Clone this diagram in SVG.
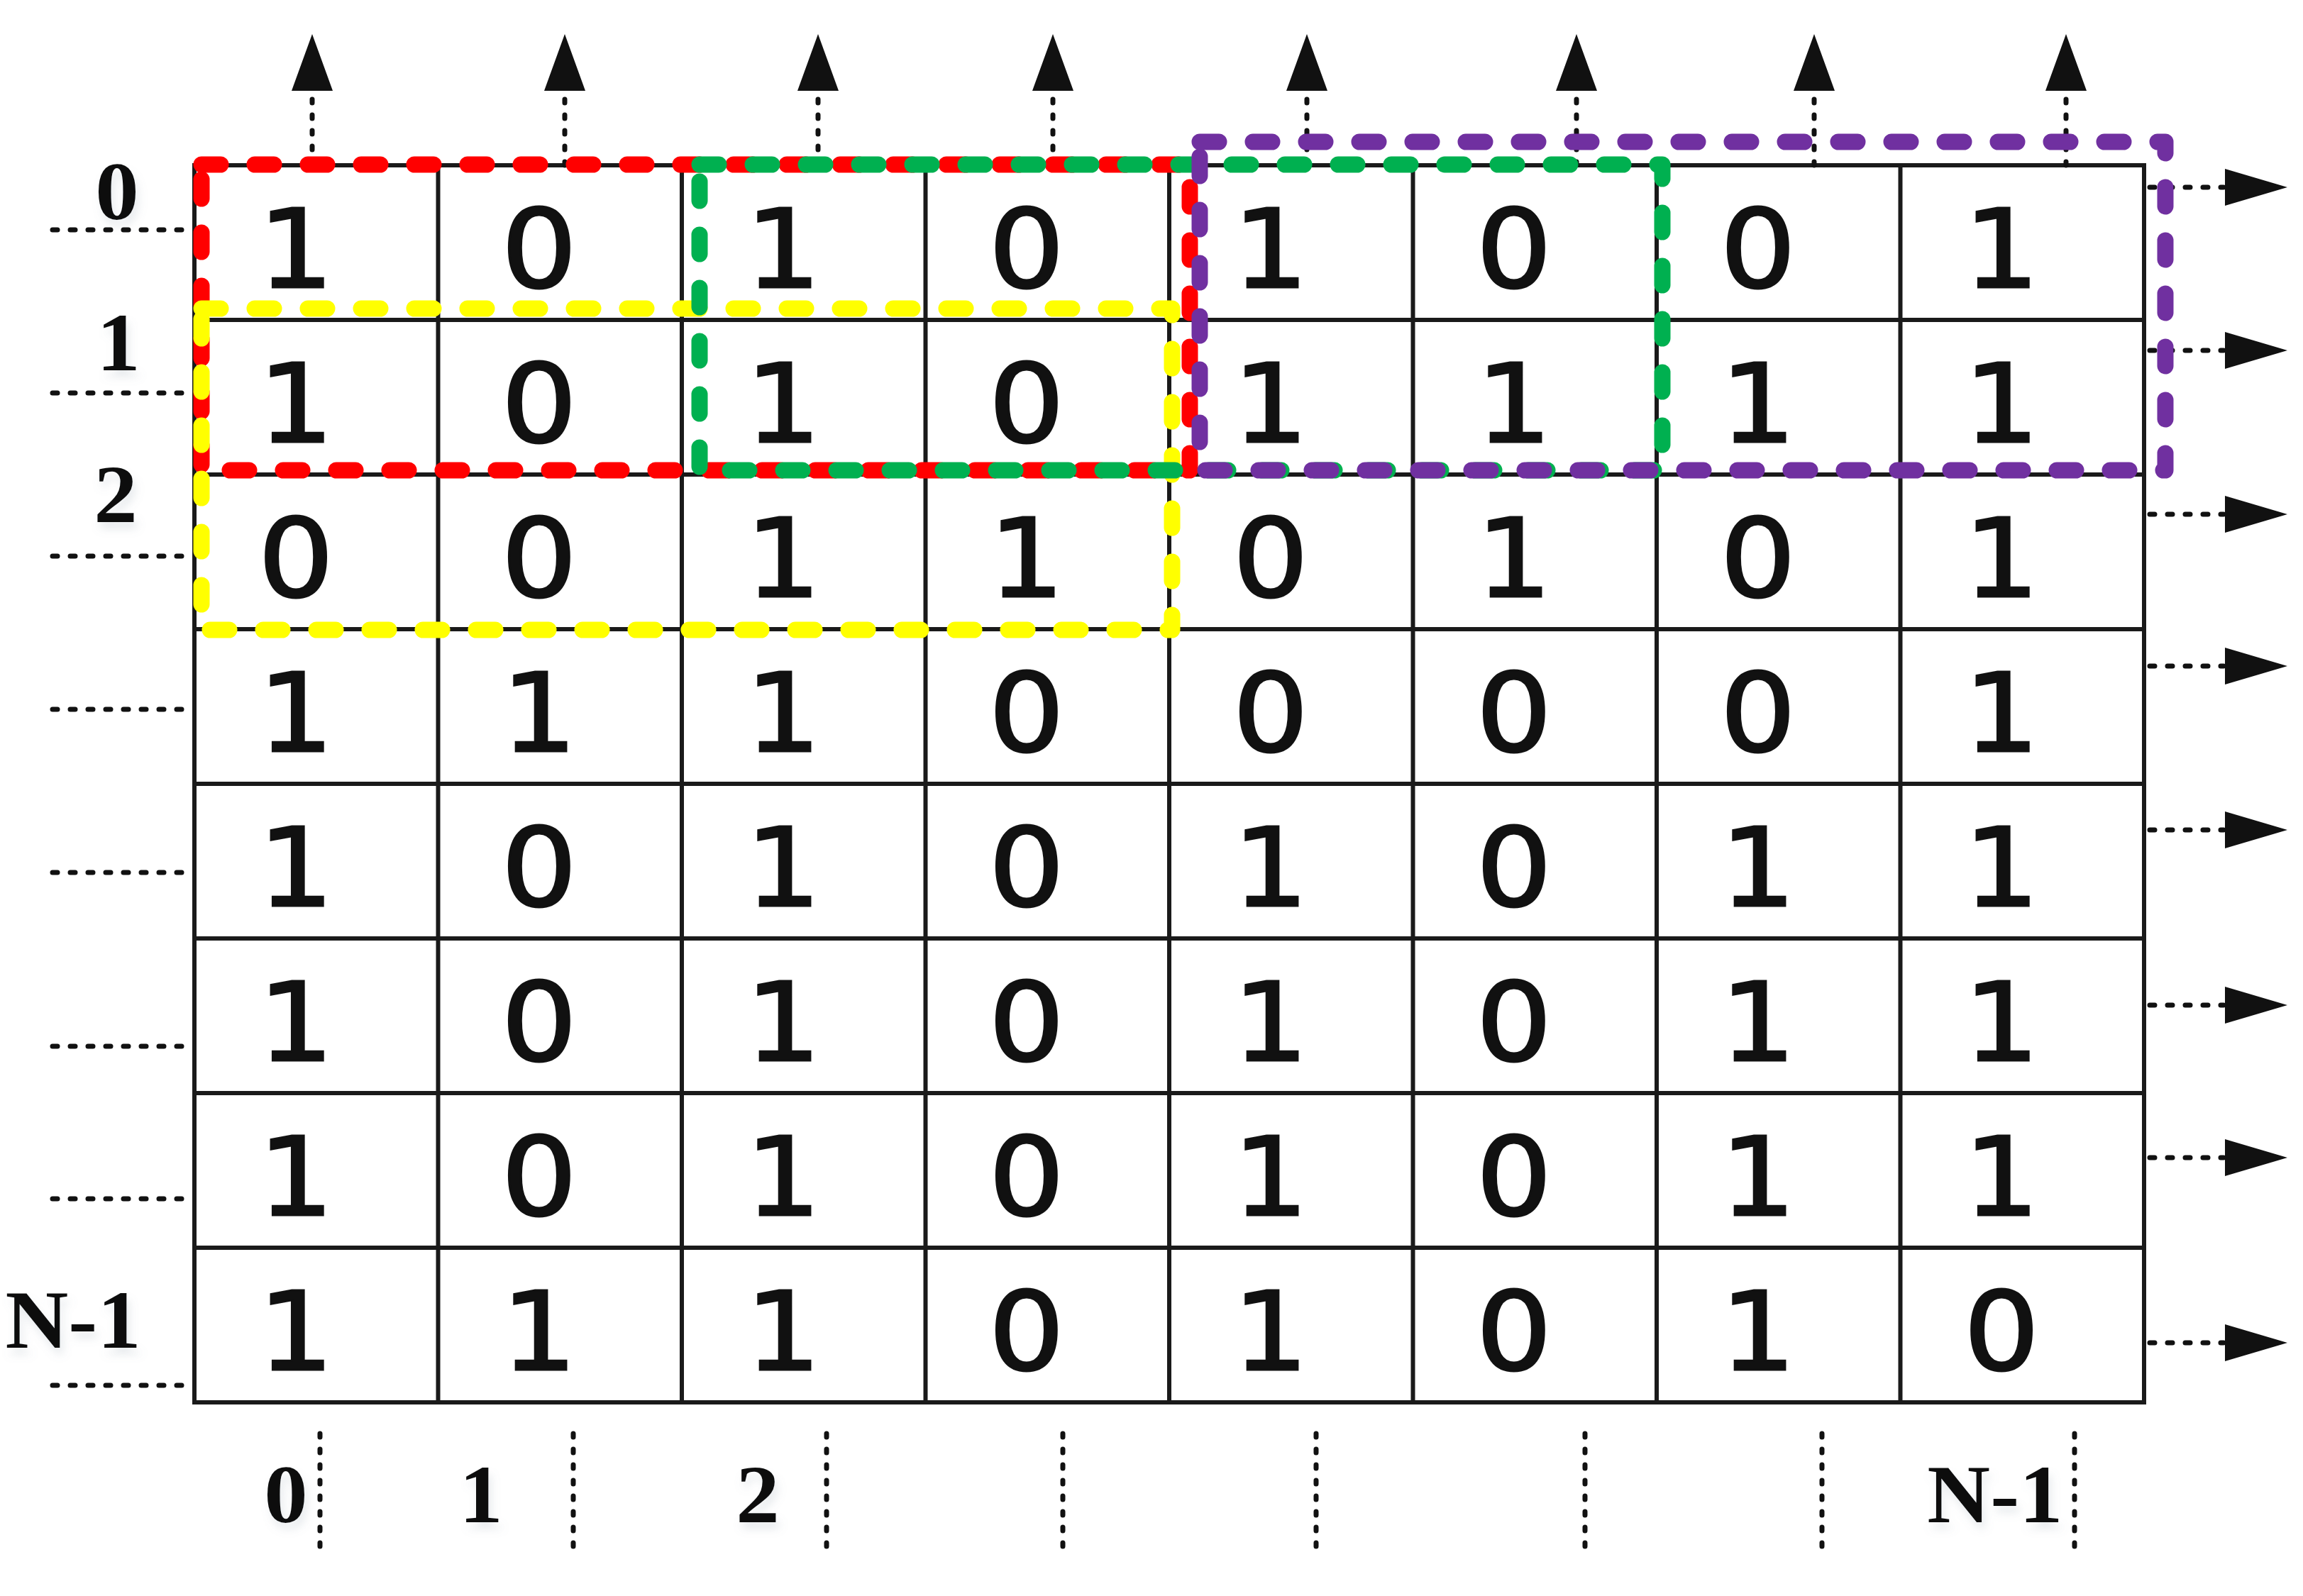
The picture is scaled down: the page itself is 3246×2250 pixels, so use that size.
<svg xmlns="http://www.w3.org/2000/svg" width="3246" height="2250" viewBox="0 0 3246 2250">
<defs>
<filter id="soft" x="-20%" y="-20%" width="140%" height="160%">
<feDropShadow dx="4" dy="10" stdDeviation="6" flood-color="#8090a0" flood-opacity="0.18"/>
</filter>
</defs>
<style>
.grid{fill:none;stroke:#1a1a1a;stroke-width:6}
.dig{font-family:"DejaVu Sans",Verdana,sans-serif;font-size:154px;fill:#111;stroke:#111;stroke-width:3;text-anchor:middle}
.lbl{font-family:"Liberation Serif","Times New Roman",serif;font-weight:bold;font-size:116px;fill:#111;text-anchor:middle}
.dot{stroke:#111;stroke-width:7;stroke-linecap:round;fill:none}
.dh{stroke-dasharray:7 18}
.dv{stroke-dasharray:5 17}
.head{fill:#111}
.box{fill:none;stroke-width:23;stroke-linecap:round;stroke-linejoin:round;stroke-dasharray:27 48}
</style>
<rect width="3246" height="2250" fill="#fff"/>
<g id="grid">
<rect class="grid" x="274" y="233" width="2748" height="1744"/>
<path class="grid" d="M617.5 233V1977M961 233V1977M1304.5 233V1977M1648 233V1977M1991.5 233V1977M2335 233V1977M2678.5 233V1977M274 451H3022M274 669H3022M274 887H3022M274 1105H3022M274 1323H3022M274 1541H3022M274 1759H3022"/>
</g>
<g id="cells" transform="scale(1.09 1)">
<g id="row0"><text class="dig" x="382.6" y="405">1</text><text class="dig" x="697.2" y="405">0</text><text class="dig" x="1012.8" y="405">1</text><text class="dig" x="1327.5" y="405">0</text><text class="dig" x="1643.1" y="405">1</text><text class="dig" x="1957.8" y="405">0</text><text class="dig" x="2273.4" y="405">0</text><text class="dig" x="2588.1" y="405">1</text></g>
<g id="row1"><text class="dig" x="382.6" y="623">1</text><text class="dig" x="697.2" y="623">0</text><text class="dig" x="1012.8" y="623">1</text><text class="dig" x="1327.5" y="623">0</text><text class="dig" x="1643.1" y="623">1</text><text class="dig" x="1957.8" y="623">1</text><text class="dig" x="2273.4" y="623">1</text><text class="dig" x="2588.1" y="623">1</text></g>
<g id="row2"><text class="dig" x="382.6" y="841">0</text><text class="dig" x="697.2" y="841">0</text><text class="dig" x="1012.8" y="841">1</text><text class="dig" x="1327.5" y="841">1</text><text class="dig" x="1643.1" y="841">0</text><text class="dig" x="1957.8" y="841">1</text><text class="dig" x="2273.4" y="841">0</text><text class="dig" x="2588.1" y="841">1</text></g>
<g id="row3"><text class="dig" x="382.6" y="1059">1</text><text class="dig" x="697.2" y="1059">1</text><text class="dig" x="1012.8" y="1059">1</text><text class="dig" x="1327.5" y="1059">0</text><text class="dig" x="1643.1" y="1059">0</text><text class="dig" x="1957.8" y="1059">0</text><text class="dig" x="2273.4" y="1059">0</text><text class="dig" x="2588.1" y="1059">1</text></g>
<g id="row4"><text class="dig" x="382.6" y="1277">1</text><text class="dig" x="697.2" y="1277">0</text><text class="dig" x="1012.8" y="1277">1</text><text class="dig" x="1327.5" y="1277">0</text><text class="dig" x="1643.1" y="1277">1</text><text class="dig" x="1957.8" y="1277">0</text><text class="dig" x="2273.4" y="1277">1</text><text class="dig" x="2588.1" y="1277">1</text></g>
<g id="row5"><text class="dig" x="382.6" y="1495">1</text><text class="dig" x="697.2" y="1495">0</text><text class="dig" x="1012.8" y="1495">1</text><text class="dig" x="1327.5" y="1495">0</text><text class="dig" x="1643.1" y="1495">1</text><text class="dig" x="1957.8" y="1495">0</text><text class="dig" x="2273.4" y="1495">1</text><text class="dig" x="2588.1" y="1495">1</text></g>
<g id="row6"><text class="dig" x="382.6" y="1713">1</text><text class="dig" x="697.2" y="1713">0</text><text class="dig" x="1012.8" y="1713">1</text><text class="dig" x="1327.5" y="1713">0</text><text class="dig" x="1643.1" y="1713">1</text><text class="dig" x="1957.8" y="1713">0</text><text class="dig" x="2273.4" y="1713">1</text><text class="dig" x="2588.1" y="1713">1</text></g>
<g id="row7"><text class="dig" x="382.6" y="1931">1</text><text class="dig" x="697.2" y="1931">1</text><text class="dig" x="1012.8" y="1931">1</text><text class="dig" x="1327.5" y="1931">0</text><text class="dig" x="1643.1" y="1931">1</text><text class="dig" x="1957.8" y="1931">0</text><text class="dig" x="2273.4" y="1931">1</text><text class="dig" x="2588.1" y="1931">0</text></g>
</g>
<g id="labels" transform="scale(1.06 1)" filter="url(#soft)">
<text class="lbl" x="155.7" y="309">0</text>
<text class="lbl" x="157.5" y="522">1</text>
<text class="lbl" x="153.8" y="736">2</text>
<text class="lbl" x="97.2" y="1900">N-1</text>
<text class="lbl" x="380.2" y="2146">0</text>
<text class="lbl" x="639.6" y="2146">1</text>
<text class="lbl" x="1007.5" y="2146">2</text>
<text class="lbl" x="2652.8" y="2146">N-1</text>
</g>
<g id="connectors">
<g id="row-ticks" class="dot dh">
<path d="M74 324H266M74 554H266M74 784H266M74 1000H266M74 1230H266M74 1475H266M74 1690H266M74 1953H266"/>
</g>
<g id="col-ticks" class="dot dv">
<path d="M451 2021V2195M808 2021V2195M1165 2021V2195M1498 2021V2195M1855 2021V2195M2234 2021V2195M2568 2021V2195M2924 2021V2195"/>
</g>
<g id="up-arrows">
<path class="dot dv" d="M440 233V132M796 233V132M1153 233V132M1484 233V132M1842 233V132M2222 233V132M2557 233V132M2912 233V132"/>
<path class="head" d="M440 48L469 128H411ZM796 48L825 128H767ZM1153 48L1182 128H1124ZM1484 48L1513 128H1455ZM1842 48L1871 128H1813ZM2222 48L2251 128H2193ZM2557 48L2586 128H2528ZM2912 48L2941 128H2883Z"/>
</g>
<g id="right-arrows">
<path class="dot dh" d="M3030 264H3134M3030 494H3134M3030 725H3134M3030 939H3134M3030 1170H3134M3030 1417H3134M3030 1632H3134M3030 1893H3134"/>
<path class="head" d="M3136 238L3224 264L3136 290ZM3136 468L3224 494L3136 520ZM3136 699L3224 725L3136 751ZM3136 913L3224 939L3136 965ZM3136 1144L3224 1170L3136 1196ZM3136 1391L3224 1417L3136 1443ZM3136 1606L3224 1632L3136 1658ZM3136 1867L3224 1893L3136 1919Z"/>
</g>
</g>
<g id="windows">
<rect id="red-window" class="box" x="284" y="232" width="1393" height="431" stroke="#FF0000"/>
<rect id="yellow-window" class="box" x="284" y="435" width="1368" height="453" stroke="#FFFF00"/>
<rect id="green-window" class="box" x="986" y="232" width="1357" height="431" stroke="#00B050"/>
<rect id="purple-window" class="box" x="1691" y="200" width="1361" height="463" stroke="#7030A0"/>
</g>
</svg>
